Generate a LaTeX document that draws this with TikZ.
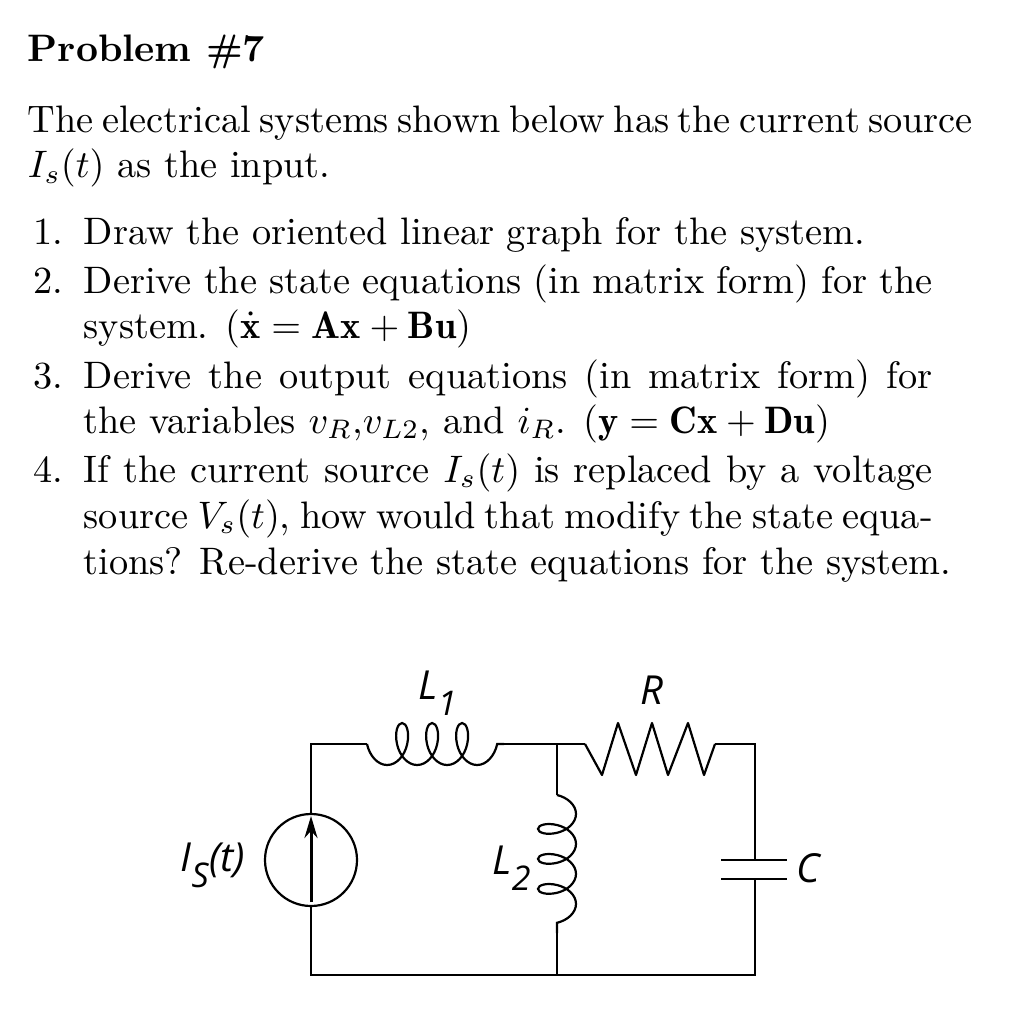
\documentclass[tikz,border=0pt]{standalone}
\usepackage{fontspec}
\usepackage{amsmath}
\newfontfamily\circfont{Open Sans}
\usetikzlibrary{decorations.pathmorphing,arrows.meta}
\begin{document}
\begin{tikzpicture}[x=1pt,y=-1pt,
  txt/.style={anchor=base west,inner sep=0pt,scale=3.83,transform shape},
  wire/.style={line width=2.2pt},
  lab/.style={font=\circfont\itshape\fontsize{40}{44}\selectfont,inner sep=0pt}]
\useasboundingbox (0,0) rectangle (1020,1024);
\node[txt,font=\bfseries] (t0) at (27,62) {Problem \#7};
\node[txt] (t1) at (27,133) {\makebox[246pt][s]{The electrical systems shown below has the current source}};
\node[txt] (t2) at (27,178) {$I_s(t)$ as the input.};
\node[txt] (n1) at (33,244) {1.};
\node[txt] (l1) at (83,244) {Draw the oriented linear graph for the system.};
\node[txt] (n2) at (33,293) {2.};
\node[txt] (l2) at (83,293) {\makebox[221.7pt][s]{Derive the state equations (in matrix form) for the}};
\node[txt] (l2b) at (83,338) {system. ($\dot{\mathbf x}=\mathbf{Ax}+\mathbf{Bu}$)};
\node[txt] (n3) at (33,388) {3.};
\node[txt] (l3) at (83,388) {\makebox[221.7pt][s]{Derive the output equations (in matrix form) for}};
\node[txt] (l3b) at (83,433) {the variables $v_R$,$v_{L2}$, and $i_R$. ($\mathbf y=\mathbf{Cx}+\mathbf{Du}$)};
\node[txt] (n4) at (33,482) {4.};
\node[txt] (l4) at (83,482) {\makebox[221.7pt][s]{If the current source $I_s(t)$ is replaced by a voltage}};
\node[txt] (l4b) at (83,528) {\makebox[221.7pt][s]{source $V_s(t)$, how would that modify the state equa-}};
\node[txt] (l4c) at (83,574) {tions? Re-derive the state equations for the system.};
% circuit
\coordinate (TL) at (311,744); \coordinate (TM) at (557,744); \coordinate (TR) at (755,744);
\coordinate (BL) at (311,975); \coordinate (BM) at (557,975); \coordinate (BR) at (755,975);
\node[draw,circle,wire,minimum size=92pt,inner sep=0pt] (src) at (311,860) {};
\draw[wire] (src.north) -- (TL) -- (367,744) coordinate (l1a);
\draw[wire,decorate,decoration={coil,aspect=0.6,segment length=30pt,amplitude=21pt,mirror}] (l1a) -- (504,744) coordinate (l1b);
\draw[wire] (l1b) -- (TM) -- (585,744) coordinate (ra);
\draw[wire,line join=round] (ra) -- (602,775) -- (618,723) -- (636,775) -- (652,723) -- (668,775) -- (688,723) -- (704,775) -- (715,744) coordinate (rb);
\draw[wire] (rb) -- (TR) -- (755,860) coordinate (c1);
\draw[wire] (721,860) -- (787,860);
\draw[wire] (721,879) -- (787,879);
\draw[wire] (755,879) coordinate (c2) -- (BR) -- (BL) -- (src.south);
\draw[wire] (TM) -- (557,795) coordinate (l2a);
\draw[wire,decorate,decoration={coil,aspect=0.6,segment length=30pt,amplitude=19pt}] (l2a) -- (557,933) coordinate (l2b);
\draw[wire] (l2b) -- (BM);
\draw[line width=3pt,-{Stealth[length=22pt,width=13pt]}] (311,902) -- (311,816);
\node[lab] (Lone) at (438,693) {L\textsubscript{\fontsize{34}{40}\selectfont 1}};
\node[lab] (Rl) at (652,690) {R};
\node[lab] (Ltwo) at (512,868) {L\textsubscript{\fontsize{34}{40}\selectfont 2}};
\node[lab] (Cl) at (808,868) {C};
\node[lab] (Is) at (213,865) {I\textsubscript{\fontsize{34}{40}\selectfont S}(t)};
\end{tikzpicture}
\end{document}
